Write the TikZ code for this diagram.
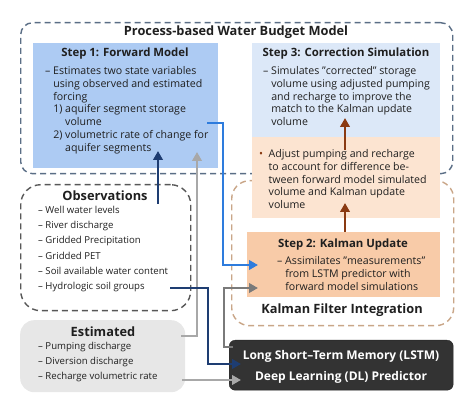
\documentclass[tikz,border=0pt]{standalone}
\usepackage{fontspec}
\setmainfont{Open Sans}
\usetikzlibrary{arrows.meta}
\definecolor{slate}{HTML}{5B6E86}
\definecolor{tan}{HTML}{C9A688}
\definecolor{frgray}{HTML}{585858}
\definecolor{blueA}{HTML}{ADCBF3}
\definecolor{blueB}{HTML}{DCE8F8}
\definecolor{peachA}{HTML}{FCE4D1}
\definecolor{peachB}{HTML}{F8CBA8}
\definecolor{estfill}{HTML}{E7E7E7}
\definecolor{lstmfill}{HTML}{333333}
\definecolor{navyc}{HTML}{1E3D72}
\definecolor{bluec}{HTML}{2E7CDD}
\definecolor{lgray}{HTML}{A8A8A8}
\definecolor{dgray}{HTML}{7A7A7A}
\definecolor{brn}{HTML}{8A3A12}
\definecolor{ink}{HTML}{1F1F1F}
\newcommand{\dd}{--\ }
\newcommand{\ind}{\hphantom{--\ }}
\tikzset{
  frame/.style={rectangle, draw, line width=1.4pt, dash pattern=on 6pt off 4pt, anchor=north west, inner sep=0pt},
  stepbox/.style={rectangle, anchor=north west, inner sep=0pt},
  body/.style={anchor=north west, align=left, inner sep=0pt, text=ink, font=\fontsize{10.6}{12.9}\selectfont},
  list/.style={body, font=\fontsize{9.6}{15.2}\selectfont},
  head/.style={inner sep=0pt, text=ink, font=\fontsize{11.4}{13}\selectfont\bfseries},
  title/.style={inner sep=0pt, text=ink, font=\fontsize{12.8}{14}\selectfont\bfseries},
  link/.style={line width=2.2pt, -{Triangle[length=9pt,width=9.5pt]}},
}
\begin{document}
\begin{tikzpicture}[x=1pt, y=-1pt]
  \useasboundingbox (0,0) rectangle (474,411);
  % Frames
  \node (pbm) [frame, draw=slate, rounded corners=12pt, minimum width=432pt, minimum height=151pt] at (20,22) {};
  \node (kfi) [frame, draw=tan, rounded corners=18pt, minimum width=222pt, minimum height=145pt] at (231,180) {};
  \node (obs) [frame, draw=frgray, rounded corners=20pt, minimum width=170pt, minimum height=126pt] at (20,184) {};
  % Boxes
  \node (s1) [stepbox, fill=blueA, minimum width=185pt, minimum height=125pt] at (33,43) {};
  \node (s3) [stepbox, fill=blueB, minimum width=188pt, minimum height=94pt] at (252,43) {};
  \node (adj) [stepbox, fill=peachA, minimum width=188pt, minimum height=81pt] at (252,137) {};
  \node (s2) [stepbox, fill=peachB, minimum width=193pt, minimum height=65pt] at (247,232) {};
  \node (est) [stepbox, fill=estfill, rounded corners=14pt, minimum width=165pt, minimum height=72pt] at (20,320) {};
  \node (lstm) [stepbox, fill=lstmfill, draw=black!85, rounded corners=6pt, minimum width=224pt, minimum height=50pt] at (229,340) {};
  % Titles
  \node (pbmtitle) [title] at (236,32) {Process-based Water Budget Model};
  \node (kfititle) [title] at (342,310) {Kalman Filter Integration};
  \node (obstitle) [title] at (105,196) {Observations};
  \node (esttitle) [title] at (103,332) {Estimated};
  \node (s1title) [head] at (125,54) {Step 1: Forward Model};
  \node (s3title) [head] at (346,54) {Step 3: Correction Simulation};
  \node (s2title) [head] at (343,245) {Step 2: Kalman Update};
  % Texts
  \node (s1text) [body] at (45,66) {\dd Estimates two state variables\\ \ind using observed and estimated\\ \ind forcing\\ \ind 1) aquifer segment storage\\ \ind \hphantom{1) }volume\\ \ind 2) volumetric rate of change for\\ \ind \hphantom{2) }aquifer segments};
  \node (s3text) [body] at (263,66) {\dd Simulates "corrected" storage\\ \ind volume using adjusted pumping\\ \ind and recharge to improve the\\ \ind match to the Kalman update\\ \ind volume};
  \node (adjtext) [body] at (259,149) {{\color{brn}\textbullet}\ \ Adjust pumping and recharge\\ \hphantom{\textbullet\ \ }to account for difference be-\\ \hphantom{\textbullet\ \ }tween forward model simulated\\ \hphantom{\textbullet\ \ }volume and Kalman update\\ \hphantom{\textbullet\ \ }volume};
  \node (s2text) [body] at (277,256) {\dd Assimilates "measurements"\\ \ind from LSTM predictor with\\ \ind forward model simulations};
  \node (obstext) [list] at (38,206) {\dd Well water levels\\ \dd River discharge\\ \dd Gridded Precipitation\\ \dd Gridded PET\\ \dd Soil available water content\\ \dd Hydrologic soil groups};
  \node (esttext) [list] at (38,342) {\dd Pumping discharge\\ \dd Diversion discharge\\ \dd Recharge volumetric rate};
  \node (lstmtext) [align=center, text=white, font=\fontsize{12}{21}\selectfont\bfseries] at (341,367) {Long Short--Term Memory (LSTM)\\ Deep Learning (DL) Predictor};
  % Arrow ends
  \coordinate (obsout) at (158,204);
  \coordinate (s1inA) at (158,151);
  \coordinate (estout) at (181,336);
  \coordinate (s1inB) at (197,152);
  \coordinate (s1out) at (207,123);
  \coordinate (s2inA) at (258,265);
  \coordinate (lstmout) at (233,347);
  \coordinate (s2inB) at (258,288);
  \coordinate (hsgout) at (170,288);
  \coordinate (lstminA) at (241,364);
  \coordinate (recout) at (182,380);
  \coordinate (lstminB) at (241,380);
  % Arrows
  \draw[link, lgray] (estout) -| (s1inB);
  \draw[link, navyc] (obsout) -- (s1inA);
  \draw[link, bluec] (s1out) -- ++(16,0) |- (s2inA);
  \draw[link, dgray] (lstmout) -- ++(-9,0) |- (s2inB);
  \draw[link, navyc] (hsgout) -- ++(38,0) |- (lstminA);
  \draw[link, lgray] (recout) -- (lstminB);
  \draw[link, brn] (s2.north -| 345,0) -- ++(0,-29);
  \draw[link, brn] (345,150) -- (345,118);
\end{tikzpicture}
\end{document}
